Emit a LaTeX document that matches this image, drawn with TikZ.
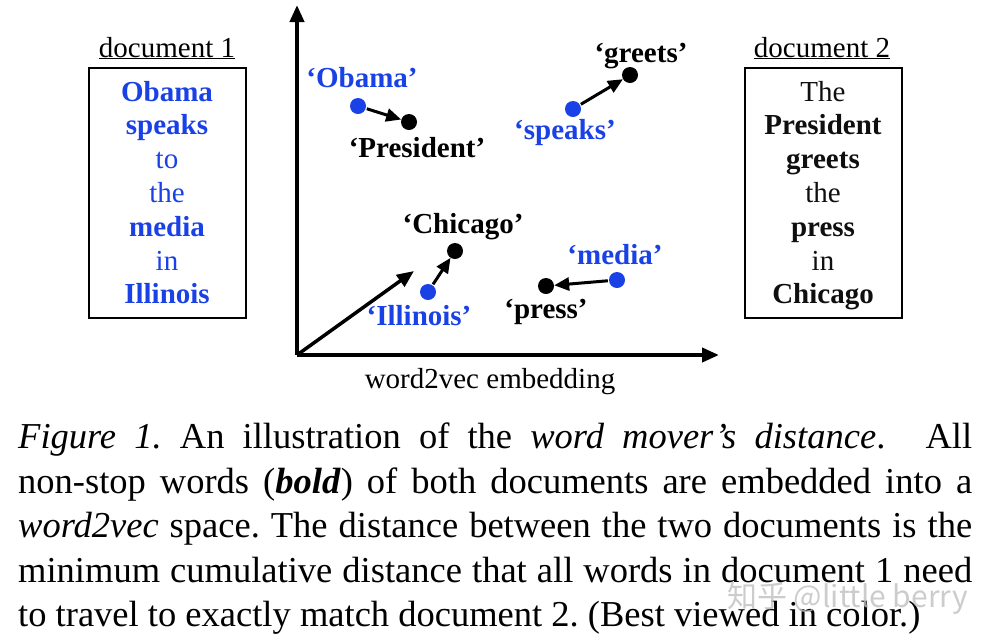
\documentclass[tikz,border=0pt]{standalone}
\usepackage{fontspec}
\setmainfont{Liberation Serif}
\newfontfamily\cjkwm{Noto Sans CJK SC}
\usetikzlibrary{arrows.meta}
\frenchspacing
\definecolor{wmdblue}{RGB}{25,65,230}
\definecolor{wmdblack}{RGB}{15,15,15}
\tikzset{
  bluedot/.style={circle,fill=wmdblue,inner sep=0pt,minimum size=16pt},
  blackdot/.style={circle,fill=black,inner sep=0pt,minimum size=16pt},
  wlabel/.style={font=\fontsize{29}{33.8}\selectfont\bfseries,inner sep=0pt,anchor=base},
  moveto/.style={line width=3pt,-{Triangle[length=15pt,width=13pt]},shorten <=1pt},
  axis/.style={line width=4pt,-{Triangle[length=17pt,width=14pt]}},
  docbox/.style={draw,line width=2pt,minimum width=157pt,minimum height=250pt,align=center,inner sep=0pt,font=\fontsize{29}{33.8}\selectfont},
  doctitle/.style={font=\fontsize{29}{33.8}\selectfont,inner sep=0pt,anchor=base},
  capline/.style={font=\fontsize{36.5}{44.6}\selectfont,inner sep=0pt,anchor=base west}
}
\begin{document}
\begin{tikzpicture}[x=1pt,y=-1pt]
\useasboundingbox (0,0) rectangle (986,641);
% documents
\node[doctitle] (t1) at (167,57) {\underline{document 1}};
\node[doctitle] (t2) at (822,57) {\underline{document 2}};
\node[docbox,text=wmdblue] (d1) at (167,192.5) {\textbf{Obama}\\\textbf{speaks}\\to\\the\\\textbf{media}\\in\\\textbf{Illinois}};
\node[docbox,text=wmdblack] (d2) at (823,192.5) {The\\\textbf{President}\\\textbf{greets}\\the\\\textbf{press}\\in\\\raisebox{0pt}[\height][0pt]{\textbf{Chicago}}};
% axes
\coordinate (o) at (297,355);
\coordinate (ytip) at (297,5);
\coordinate (xtip) at (719,355);
\coordinate (dtip) at (414,271);
\draw[axis] (o) -- (ytip);
\draw[axis] (o) -- (xtip);
\draw[axis,line width=3.5pt] (o) -- (dtip);
\node[doctitle] (xl) at (490,388) {word2vec embedding};
% points
\node[bluedot] (obama) at (358,106) {};
\node[blackdot] (president) at (409,122) {};
\node[bluedot] (speaks) at (573,109) {};
\node[blackdot] (greets) at (630,75) {};
\node[blackdot] (chicago) at (455,251) {};
\node[bluedot] (illinois) at (428,292) {};
\node[blackdot] (press) at (546,286) {};
\node[bluedot] (media) at (617,280) {};
% labels
\node[wlabel,text=wmdblue] (lobama) at (362,87) {‘Obama’};
\node[wlabel] (lpresident) at (417,157) {‘President’};
\node[wlabel,text=wmdblue] (lspeaks) at (565,139) {‘speaks’};
\node[wlabel] (lgreets) at (641,62) {‘greets’};
\node[wlabel] (lchicago) at (463,233) {‘Chicago’};
\node[wlabel,text=wmdblue] (lmedia) at (615,264) {‘media’};
\node[wlabel,text=wmdblue] (lillinois) at (419,325) {‘Illinois’};
\node[wlabel] (lpress) at (546,318) {‘press’};
% moves
\draw[moveto] (obama) -- (president);
\draw[moveto] (speaks) -- (greets);
\draw[moveto] (illinois) -- (chicago);
\draw[moveto] (media) -- (press);
% caption
\node[capline] (c1) at (18,448) {\makebox[954pt][s]{\textit{Figure 1.} An illustration of the \textit{word mover’s distance}.\hspace{22pt} All}};
\node[capline] (c2) at (18,493) {\makebox[954pt][s]{non-stop words (\textbf{\textit{bold}}) of both documents are embedded into a}};
\node[capline] (c3) at (18,537) {\makebox[954pt][s]{\textit{word2vec} space. The distance between the two documents is the}};
\node[capline] (c4) at (18,582) {\makebox[954pt][s]{minimum cumulative distance that all words in document 1 need}};
\node[capline] (c5) at (18,626) {to travel to exactly match document 2. (Best viewed in color.)};
% watermark
\node[font=\cjkwm\fontsize{30}{32}\selectfont,text=black!25,opacity=0.8,inner sep=0pt,anchor=base west] (wm) at (727,607) {知乎 @little berry};
\end{tikzpicture}
\end{document}
